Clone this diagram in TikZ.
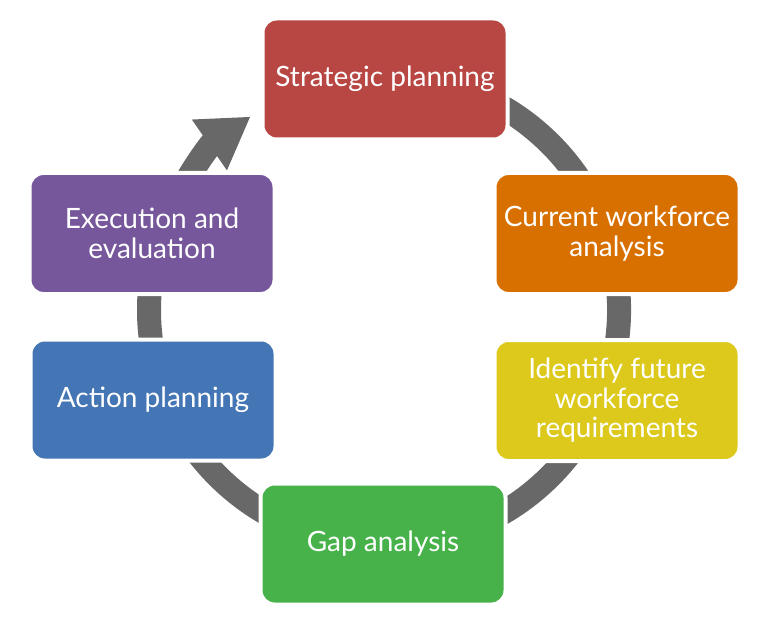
\documentclass[tikz,border=0pt]{standalone}
\usepackage{fontspec}
\setmainfont{Lato}
\usepackage{xcolor}
\usetikzlibrary{arrows.meta}
\definecolor{ringgray}{HTML}{686868}
\definecolor{stratred}{HTML}{B84744}
\definecolor{currorange}{HTML}{D87000}
\definecolor{identyellow}{HTML}{DCC91B}
\definecolor{gapgreen}{HTML}{47B14A}
\definecolor{actblue}{HTML}{4475B4}
\definecolor{exepurple}{HTML}{76579B}

\begin{document}
\begin{tikzpicture}[x=1pt,y=1pt,
    stage/.style={rounded corners=14pt,draw=white,line width=4pt,
      minimum width=245pt,minimum height=121pt,text=white,align=center,
      font=\fontsize{28}{29.5}\selectfont},
    ring/.style={draw=ringgray,line width=24pt}]
      \useasboundingbox (0,0) rectangle (768,625);
      \coordinate (c) at (384,315);

      \draw[ring] (c) ++(110:235) arc[start angle=110,end angle=-200,radius=235];
      \draw[ring,-{Triangle[length=50pt,width=58pt]}] (c) ++(160:235) arc[start angle=160,end angle=124.6,radius=235];

      \node[stage,fill=stratred] (strat) at (385,546) {Strategic planning};
      \node[stage,fill=currorange] (curr) at (617,391.5) {Current workforce\\analysis};
      \node[stage,fill=identyellow] (ident) at (617,224.5) {Identify future\\workforce\\requirements};
      \node[stage,fill=gapgreen] (gap) at (383,81) {Gap analysis};
      \node[stage,fill=actblue] (act) at (153,225) {Action planning};
      \node[stage,fill=exepurple] (exe) at (152,391.5) {Execution and\\evaluation};
    \end{tikzpicture}
\end{document}
